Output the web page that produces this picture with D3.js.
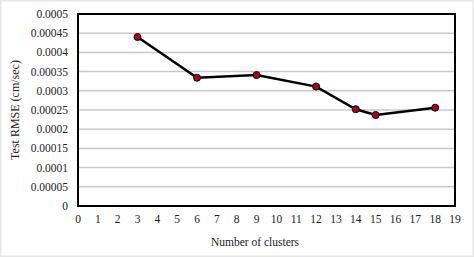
<!DOCTYPE html>
<html>
<head>
<meta charset="utf-8">
<script src="https://cdn.jsdelivr.net/npm/d3@7"></script>
<style>
  body { margin: 0; background: #fff; }
  svg { display: block; font-family: "Liberation Serif", "Times New Roman", serif; }
</style>
</head>
<body>
<div id="chart"></div>
<script>
// data
const clusters = [3, 6, 9, 12, 14, 15, 18];
const rmse = [0.00044, 0.000334, 0.000341, 0.000311, 0.000252, 0.000237, 0.000256];
const xTicks = d3.range(0, 20);
const yTicks = [0, 0.00005, 0.0001, 0.00015, 0.0002, 0.00025, 0.0003, 0.00035, 0.0004, 0.00045, 0.0005];

const width = 474, height = 257;
const margin = { top: 14, right: 19, bottom: 51, left: 78 };
const innerW = width - margin.left - margin.right;
const innerH = height - margin.top - margin.bottom;

const svg = d3.select("#chart").append("svg").attr("width", width).attr("height", height);

// faint outer frame of the figure
svg.append("rect").attr("x", 0.5).attr("y", 0.5).attr("width", width - 1).attr("height", height - 1)
    .attr("fill", "none").attr("stroke", "#e6e6e6").attr("stroke-width", 2);

const g = svg.append("g").attr("transform", `translate(${margin.left},${margin.top})`);

const x = d3.scaleLinear().domain([0, 19]).range([0, innerW]);
const y = d3.scaleLinear().domain([0, 0.0005]).range([innerH, 0]);

// gridlines
g.selectAll(".grid").data(yTicks.slice(1, -1)).join("line")
    .attr("x1", 0).attr("x2", innerW)
    .attr("y1", (d) => y(d)).attr("y2", (d) => y(d))
    .attr("stroke", "#c8c8c8").attr("stroke-width", 1.5);

// plot frame
g.append("rect").attr("width", innerW).attr("height", innerH)
    .attr("fill", "none").attr("stroke", "#000").attr("stroke-width", 2);

// y tick labels
const fmt = (d) => (d === 0 ? "0" : String(+d.toFixed(5)));
g.selectAll(".ylab").data(yTicks).join("text")
    .attr("x", -10).attr("y", (d) => y(d)).attr("dy", "0.35em")
    .attr("text-anchor", "end").attr("font-size", 11.5).attr("fill", "#222")
    .text(fmt);

// x tick labels
g.selectAll(".xlab").data(xTicks).join("text")
    .attr("x", (d) => x(d)).attr("y", innerH + 17)
    .attr("text-anchor", "middle").attr("font-size", 11.5).attr("fill", "#222")
    .text((d) => d);

// line + markers
const pts = clusters.map((c, i) => ({ c, v: rmse[i] }));
g.append("path").datum(pts)
    .attr("fill", "none").attr("stroke", "#000").attr("stroke-width", 2.5)
    .attr("d", d3.line().x((d) => x(d.c)).y((d) => y(d.v)));

g.selectAll(".dot").data(pts).join("circle")
    .attr("cx", (d) => x(d.c)).attr("cy", (d) => y(d.v)).attr("r", 3.5)
    .attr("fill", "#b0001e").attr("stroke", "#000").attr("stroke-width", 1);

// axis titles
svg.append("text").attr("x", 255).attr("y", 246)
    .attr("text-anchor", "middle").attr("font-size", 11.5).attr("fill", "#222")
    .text("Number of clusters");

svg.append("text")
    .attr("transform", `translate(19,${margin.top + innerH / 2}) rotate(-90)`)
    .attr("text-anchor", "middle").attr("font-size", 12).attr("fill", "#222")
    .text("Test RMSE (cm/sec)");
</script>
</body>
</html>
